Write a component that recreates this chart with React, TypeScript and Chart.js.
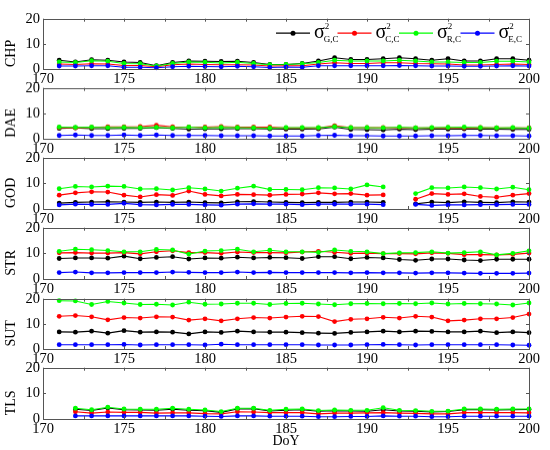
import React, { useEffect, useRef } from "react";
import { Chart, registerables } from "chart.js";
Chart.register(...registerables);

const days = [171, 172, 173, 174, 175, 176, 177, 178, 179, 180, 181, 182, 183, 184, 185, 186, 187, 188, 189, 190, 191, 192, 193, 194, 195, 196, 197, 198, 199, 200];
const stations = ["CHP", "DAE", "GOD", "STR", "SUT", "TLS"];
const seriesColors = ["#000000", "#ff0000", "#00ff00", "#0000ff"];
const legendSubs = ["G,C", "C,C", "R,C", "E,C"];
const xTicks = [170, 175, 180, 185, 190, 195, 200];
const yTicks = [0, 10, 20];

const chpG = [3.5, 2.8, 3.7, 3.5, 2.8, 2.6, 1.3, 2.6, 3.2, 3.1, 3.0, 3.1, 2.6, 1.8, 1.8, 2.2, 3.2, 4.5, 3.8, 3.8, 4.1, 4.5, 4.1, 3.5, 4.1, 3.2, 3.2, 4.1, 4.1, 3.5];
const chpC = [2.0, 1.8, 2.1, 2.0, 1.4, 1.4, 0.9, 1.7, 2.0, 1.8, 1.7, 1.7, 1.6, 1.2, 1.3, 1.3, 2.0, 2.5, 2.2, 2.2, 2.5, 2.5, 2.2, 2.1, 2.0, 1.6, 1.6, 1.8, 2.0, 1.8];
const chpR = [2.8, 2.6, 3.3, 3.1, 2.2, 2.1, 1.2, 2.2, 2.8, 2.7, 2.4, 2.7, 2.2, 1.7, 1.8, 2.1, 2.6, 3.5, 3.2, 3.2, 3.2, 3.5, 3.2, 2.8, 2.8, 2.6, 2.6, 3.1, 3.1, 2.8];
const chpE = [1.2, 1.2, 1.3, 1.3, 0.7, 0.7, 0.5, 0.9, 1.1, 1.0, 0.9, 1.1, 0.9, 0.6, 0.8, 0.7, 1.3, 1.3, 1.3, 1.3, 1.3, 1.4, 1.3, 1.2, 1.2, 1.1, 1.1, 1.2, 1.3, 1.2];

const daeG = [4.1, 4.3, 4.0, 4.0, 4.1, 4.1, 4.4, 4.1, 3.8, 3.9, 3.9, 4.0, 4.0, 3.9, 3.8, 3.8, 3.9, 4.6, 3.7, 3.6, 3.5, 3.8, 3.6, 3.8, 3.8, 3.9, 3.8, 3.8, 3.7, 3.7];
const daeC = [4.4, 4.3, 4.5, 4.7, 4.7, 4.8, 5.3, 4.7, 4.6, 4.6, 4.8, 4.6, 4.6, 4.6, 4.3, 4.3, 4.3, 5.1, 4.4, 4.4, 4.4, 4.4, 4.3, 4.3, 4.4, 4.3, 4.4, 4.3, 4.3, 4.3];
const daeR = [4.6, 4.5, 4.6, 4.4, 4.5, 4.4, 4.5, 4.3, 4.6, 4.3, 4.5, 4.4, 4.3, 4.2, 4.4, 4.4, 4.4, 4.8, 4.4, 4.4, 4.3, 4.6, 4.3, 4.4, 4.5, 4.6, 4.4, 4.3, 4.4, 4.2];
const daeE = [1.3, 1.5, 1.3, 1.3, 1.5, 1.3, 1.5, 1.3, 1.3, 1.3, 1.2, 1.2, 1.2, 1.1, 1.1, 1.1, 1.3, 1.4, 1.2, 1.2, 1.1, 1.1, 1.1, 1.2, 1.2, 1.3, 1.3, 1.2, 1.2, 1.1];

const godG = [2.3, 2.6, 2.7, 2.8, 2.7, 2.6, 2.7, 2.6, 2.7, 2.5, 2.4, 2.8, 2.9, 2.7, 2.6, 2.5, 2.6, 2.6, 2.7, 2.7, 2.6, null, 2.0, 2.7, 2.5, 2.8, 2.6, 2.5, 2.8, 2.7];
const godC = [5.4, 6.3, 6.7, 6.6, 5.4, 4.7, 5.6, 5.3, 7.0, 5.7, 5.1, 5.7, 5.6, 5.4, 5.7, 5.8, 6.3, 5.9, 6.0, 5.4, 5.5, null, 3.8, 6.0, 5.7, 5.9, 4.9, 4.6, 5.4, 6.0];
const godR = [7.9, 8.8, 8.6, 8.9, 8.8, 7.8, 7.9, 7.4, 8.3, 7.8, 7.0, 8.1, 8.9, 7.6, 7.6, 7.5, 8.3, 8.2, 7.8, 9.4, 8.6, null, 6.0, 8.3, 8.2, 8.6, 8.3, 7.8, 8.5, 7.5];
const godE = [1.6, 1.9, 1.8, 1.8, 2.2, 1.7, 1.6, 1.8, 1.8, 1.6, 1.5, 1.9, 2.0, 1.9, 1.9, 1.7, 1.9, 1.9, 1.9, 1.9, 1.7, null, 1.8, 1.4, 1.6, 1.6, 1.7, 1.7, 1.8, 1.8];

const strG = [8.0, 8.2, 8.2, 8.1, 8.9, 7.9, 8.4, 8.7, 7.8, 8.2, 8.1, 8.5, 8.2, 8.4, 8.3, 8.0, 8.7, 8.7, 7.9, 8.4, 8.2, 7.6, 7.3, 7.8, 7.8, 7.4, 7.2, 7.7, 7.7, 7.7];
const strC = [10.2, 10.3, 10.1, 10.1, 10.3, 9.8, 10.6, 11.0, 10.3, 10.3, 10.0, 10.5, 10.3, 10.3, 10.2, 10.5, 10.8, 10.4, 10.0, 10.1, 9.9, 9.9, 9.8, 10.2, 10.0, 9.5, 9.5, 9.4, 9.6, 10.1];
const strR = [10.8, 11.6, 11.4, 11.1, 10.6, 10.6, 11.5, 11.3, 9.7, 10.9, 11.1, 11.6, 10.6, 11.2, 10.6, 10.6, 10.4, 11.3, 10.8, 10.6, 9.9, 10.2, 10.3, 10.6, 10.1, 10.3, 10.6, 9.4, 10.0, 11.0];
const strE = [2.5, 2.7, 2.4, 2.4, 2.5, 2.5, 2.5, 2.7, 2.6, 2.5, 2.5, 2.7, 2.5, 2.6, 2.5, 2.5, 2.5, 2.5, 2.4, 2.5, 2.4, 2.4, 2.3, 2.4, 2.4, 2.3, 2.2, 2.2, 2.2, 2.3];

const sutG = [6.8, 6.7, 7.1, 6.3, 7.3, 6.7, 6.8, 6.7, 6.0, 6.8, 6.6, 7.1, 6.8, 6.7, 6.7, 6.5, 6.3, 6.2, 6.6, 6.8, 7.1, 6.8, 7.1, 7.0, 6.8, 6.8, 7.1, 6.5, 6.8, 6.5];
const sutC = [13.0, 13.3, 12.8, 11.6, 12.5, 12.3, 12.8, 12.7, 11.5, 12.0, 11.2, 12.0, 12.5, 12.3, 12.7, 13.0, 12.9, 10.9, 11.8, 12.0, 12.6, 12.3, 13.0, 12.7, 11.2, 11.5, 12.0, 12.0, 12.5, 13.9];
const sutR = [19.2, 19.1, 17.7, 18.9, 18.3, 17.7, 17.8, 17.5, 18.6, 17.8, 17.9, 18.2, 18.2, 17.7, 18.1, 18.2, 17.9, 17.6, 18.0, 18.1, 18.0, 18.1, 18.0, 18.3, 17.9, 18.1, 18.0, 17.9, 17.5, 18.3];
const sutE = [1.7, 1.7, 1.7, 1.7, 1.8, 1.6, 1.7, 1.7, 1.7, 1.6, 1.9, 1.7, 1.7, 1.7, 1.7, 1.7, 1.6, 1.6, 1.6, 1.7, 1.8, 1.7, 1.6, 1.7, 1.7, 1.7, 1.7, 1.7, 1.6, 1.5];

const tlsG = [null, 3.8, 3.3, 4.3, 3.6, 3.5, 3.4, 3.8, 3.4, 3.2, 2.6, 3.9, 4.0, 3.1, 3.4, 3.6, 3.0, 3.2, 3.1, 3.0, 3.6, 3.1, 3.0, 2.7, 2.9, 3.6, 3.6, 3.5, 3.6, 3.7];
const tlsC = [null, 2.8, 2.3, 2.7, 2.6, 2.6, 2.3, 2.4, 2.4, 2.1, 2.0, 2.8, 2.7, 2.5, 2.5, 2.5, 2.0, 2.3, 2.3, 2.4, 2.5, 2.3, 2.2, 2.0, 2.0, 2.5, 2.5, 2.5, 2.5, 2.4];
const tlsR = [null, 4.2, 3.6, 4.6, 3.9, 3.8, 3.8, 4.2, 3.8, 3.5, 2.9, 4.2, 4.2, 3.4, 3.8, 3.9, 3.3, 3.5, 3.4, 3.4, 4.4, 3.4, 3.3, 3.0, 3.1, 3.9, 3.9, 3.8, 3.9, 3.9];
const tlsE = [null, 1.2, 1.2, 1.2, 1.2, 1.2, 1.2, 1.2, 1.2, 1.1, 1.0, 1.2, 1.2, 1.1, 1.1, 1.1, 0.9, 0.9, 1.0, 1.0, 1.2, 1.1, 1.1, 0.9, 0.9, 1.1, 1.1, 1.1, 1.1, 1.1];

const stationSeries: (number | null)[][][] = [
  [chpG, chpC, chpR, chpE],
  [daeG, daeC, daeR, daeE],
  [godG, godC, godR, godE],
  [strG, strC, strR, strE],
  [sutG, sutC, sutR, sutE],
  [tlsG, tlsC, tlsR, tlsE],
];

const panelTops = [17, 86, 156, 226, 296.5, 366];
const panelBottoms = [69, 138.5, 209, 279, 349, 419];
const PLOT_LEFT = 43;
const PLOT_RIGHT = 529;
const PAD_TOP = 10;
const SERIF = "'Liberation Serif', 'Times New Roman', serif";

const decoPlugin = {
  id: "deco",
  afterDatasetsDraw(chart: any, _args: any, opts: any) {
    const ctx = chart.ctx;
    const a = chart.chartArea;
    const xs = chart.scales.x;
    const ys = chart.scales.y;
    ctx.save();
    ctx.strokeStyle = "#555555";
    ctx.lineWidth = 1;
    ctx.strokeRect(Math.round(a.left) + 0.5, Math.round(a.top) + 0.5, Math.round(a.right - a.left), Math.round(a.bottom - a.top));
    ctx.beginPath();
    for (let v = 170; v <= 200; v += 2.5) {
      const px = Math.round(xs.getPixelForValue(v)) + 0.5;
      ctx.moveTo(px, a.bottom);
      ctx.lineTo(px, a.bottom - 3);
      ctx.moveTo(px, a.top);
      ctx.lineTo(px, a.top + 3);
    }
    for (const v of yTicks) {
      const py = Math.round(ys.getPixelForValue(v)) + 0.5;
      ctx.moveTo(a.left, py);
      ctx.lineTo(a.left + 3, py);
      ctx.moveTo(a.right, py);
      ctx.lineTo(a.right - 3, py);
    }
    ctx.stroke();

    // station label
    ctx.fillStyle = "#000";
    ctx.font = `14px ${SERIF}`;
    ctx.textAlign = "center";
    ctx.textBaseline = "middle";
    ctx.translate(11, (a.top + a.bottom) / 2 + 9.5);
    ctx.rotate(-Math.PI / 2);
    ctx.fillText(opts.label, 0, 0);
    ctx.restore();

    if (opts.legend) {
      ctx.save();
      const ly = a.top + 14.5;
      for (let i = 0; i < 4; i++) {
        const x0 = a.right - 253 + i * 61.5;
        ctx.strokeStyle = seriesColors[i];
        ctx.lineWidth = 1.2;
        ctx.beginPath();
        ctx.moveTo(x0, ly);
        ctx.lineTo(x0 + 34, ly);
        ctx.stroke();
        ctx.fillStyle = seriesColors[i];
        ctx.beginPath();
        ctx.arc(x0 + 17, ly, 2.5, 0, Math.PI * 2);
        ctx.fill();
        ctx.fillStyle = "#000";
        ctx.textAlign = "left";
        ctx.textBaseline = "alphabetic";
        ctx.font = `20px ${SERIF}`;
        const sx = x0 + 38;
        ctx.fillText("σ", sx, ly + 5);
        const sw = ctx.measureText("σ").width;
        ctx.font = `9px ${SERIF}`;
        ctx.fillText("2", sx + sw, ly - 4.5);
        ctx.fillText(legendSubs[i], sx + sw - 1, ly + 9);
      }
      ctx.restore();
    }
  },
};

function Panel({ index }: { index: number }) {
  const ref = useRef<HTMLCanvasElement | null>(null);
  const top = panelTops[index];
  const bottom = panelBottoms[index];
  const isLast = index === stations.length - 1;
  const xAxisH = isLast ? 450 - bottom : 18;
  const canvasTop = top - PAD_TOP;
  const height = bottom - top + PAD_TOP + xAxisH;

  useEffect(() => {
    if (!ref.current) return;
    const series = stationSeries[index];
    const chart = new Chart(ref.current, {
      type: "line",
      data: {
        datasets: series.map((vals, si) => ({
          label: legendSubs[si],
          data: days.map((d, k) => ({ x: d, y: vals[k] })),
          borderColor: seriesColors[si],
          backgroundColor: seriesColors[si],
          borderWidth: 1.1,
          pointRadius: 2.4,
          pointBorderWidth: 0,
          pointBackgroundColor: seriesColors[si],
          spanGaps: false,
          tension: 0,
          clip: false as any,
          order: 4 - si,
        })),
      },
      options: {
        responsive: false,
        animation: false,
        events: [],
        layout: { padding: { top: PAD_TOP, right: 550 - PLOT_RIGHT, left: 0, bottom: 0 } },
        plugins: {
          legend: { display: false },
          tooltip: { enabled: false },
          deco: { label: stations[index], legend: index === 0 },
        } as any,
        scales: {
          x: {
            type: "linear",
            min: 170,
            max: 200,
            afterBuildTicks: (s: any) => {
              s.ticks = xTicks.map((v) => ({ value: v }));
            },
            afterFit: (s: any) => {
              s.height = xAxisH;
            },
            grid: { display: false, drawTicks: false },
            border: { display: false },
            ticks: {
              color: "#000",
              font: { family: SERIF, size: 14.5 },
              padding: 1,
              maxRotation: 0,
              autoSkip: false,
            },
            title: {
              display: isLast,
              text: "DoY",
              color: "#000",
              font: { family: SERIF, size: 14 },
              padding: { top: 0, bottom: 0 },
            },
          },
          y: {
            type: "linear",
            min: 0,
            max: 20,
            afterBuildTicks: (s: any) => {
              s.ticks = yTicks.map((v) => ({ value: v }));
            },
            afterFit: (s: any) => {
              s.width = PLOT_LEFT;
            },
            grid: { display: false, drawTicks: false },
            border: { display: false },
            ticks: {
              color: "#000",
              font: { family: SERIF, size: 14.5 },
              padding: 3,
            },
          },
        },
      },
      plugins: [decoPlugin],
    } as any);
    return () => chart.destroy();
  }, [index]);

  return (
    <canvas
      ref={ref}
      width={550}
      height={height}
      style={{ position: "absolute", left: 0, top: canvasTop, width: 550, height }}
    />
  );
}

export default function App() {
  return (
    <div style={{ position: "fixed", left: 0, top: 0, width: 550, height: 450, background: "#fff", overflow: "hidden" }}>
      {stations.map((s, i) => (
        <Panel key={s} index={i} />
      ))}
    </div>
  );
}
